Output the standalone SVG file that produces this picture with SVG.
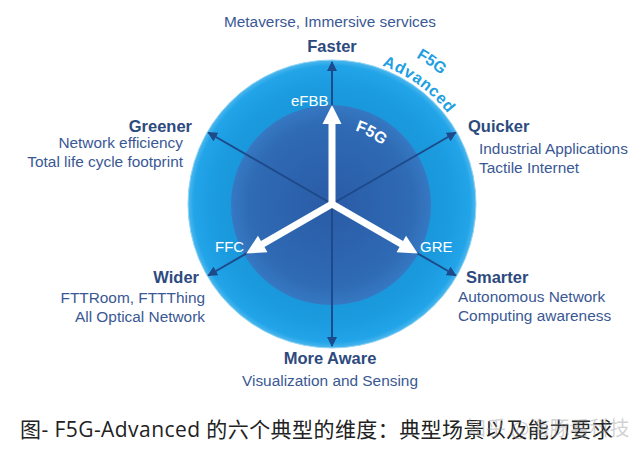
<svg xmlns="http://www.w3.org/2000/svg" width="641" height="451" viewBox="0 0 641 451">
<style>
.t{font-family:"Liberation Sans",Arial,sans-serif;font-weight:bold;font-size:16.5px;fill:#2d4a7e}
.s{font-family:"Liberation Sans",Arial,sans-serif;font-size:15.4px;fill:#3a5894}
.w{font-family:"Liberation Sans",Arial,sans-serif;font-size:15px;fill:#ffffff}
.ring{font-family:"Liberation Sans",Arial,sans-serif;font-weight:bold;font-size:16px;fill:#1f9fe2}
.dark{stroke:#1d4a8a;stroke-width:2;fill:none;marker-end:url(#ah)}
</style>
<defs>
<radialGradient id="gOut" cx="0.5" cy="0.5" r="0.5">
<stop offset="0" stop-color="#168ad2"/>
<stop offset="0.8" stop-color="#1b9ade"/>
<stop offset="0.96" stop-color="#22a4e8"/>
<stop offset="1" stop-color="#4cb8ee"/>
</radialGradient>
<radialGradient id="gIn" cx="0.5" cy="0.5" r="0.5">
<stop offset="0" stop-color="#2a5ba6"/>
<stop offset="0.8" stop-color="#2f6ab4"/>
<stop offset="1" stop-color="#3678c2"/>
</radialGradient>
<marker id="ah" viewBox="0 0 10 10" refX="9" refY="5" markerWidth="5" markerHeight="5" orient="auto" markerUnits="strokeWidth">
<path d="M0,0 L10,5 L0,10 z" fill="#1d4a8a"/>
</marker>
<path id="wa" d="M-3.5,0 L-3.5,-80 L-9.5,-80 L0,-99 L9.5,-80 L3.5,-80 L3.5,0 z" fill="#ffffff"/>
<path id="arcA" d="M306.5,59.2 A147,147 0 0 1 479,204"/>
<path id="arcF" d="M302.8,37.5 A169,169 0 0 1 501,204"/>
<path id="arcI" d="M318.6,128.2 A77,77 0 0 1 409,204"/>
</defs>

<g id="circles">
<circle cx="332" cy="204" r="144" fill="url(#gOut)" stroke="#8fd2f4" stroke-width="1"/>
<circle cx="331" cy="205" r="100" fill="url(#gIn)"/>
</g>

<g id="connectors">
<line class="dark" x1="332" y1="204" x2="332" y2="62"/>
<line class="dark" x1="332" y1="204" x2="332" y2="346"/>
<line class="dark" x1="332" y1="204" x2="208.2" y2="132.5"/>
<line class="dark" x1="332" y1="204" x2="455.8" y2="132.5"/>
<line class="dark" x1="332" y1="204" x2="208.2" y2="275.5"/>
<line class="dark" x1="332" y1="204" x2="455.8" y2="275.5"/>
<use href="#wa" transform="translate(332,204)"/>
<use href="#wa" transform="translate(332,204) rotate(-120)"/>
<use href="#wa" transform="translate(332,204) rotate(120)"/>
</g>

<g id="inner-labels">
<text class="w" x="291" y="106">eFBB</text>
<text class="w" x="215" y="252">FFC</text>
<text class="w" x="420" y="252">GRE</text>
<text class="w" style="font-weight:bold;font-size:16px"><textPath href="#arcI" startOffset="39%" text-anchor="middle">F5G</textPath></text>
</g>

<g id="ring-label">
<text class="ring"><textPath href="#arcF" startOffset="45%" text-anchor="middle">F5G</textPath></text>
<text class="ring" letter-spacing="0.8"><textPath href="#arcA" startOffset="46%" text-anchor="middle">Advanced</textPath></text>
</g>

<g id="faster">
<text class="s" x="330" y="27" text-anchor="middle">Metaverse, Immersive services</text>
<text class="t" x="332" y="52" text-anchor="middle">Faster</text>
</g>

<g id="greener">
<text class="t" x="192" y="132" text-anchor="end">Greener</text>
<text class="s" x="183" y="148" text-anchor="end">Network efficiency</text>
<text class="s" x="183" y="167" text-anchor="end">Total life cycle footprint</text>
</g>

<g id="quicker">
<text class="t" x="468" y="132">Quicker</text>
<text class="s" x="479" y="154">Industrial Applications</text>
<text class="s" x="479" y="173">Tactile Internet</text>
</g>

<g id="wider">
<text class="t" x="199" y="283" text-anchor="end">Wider</text>
<text class="s" x="205" y="303" text-anchor="end">FTTRoom, FTTThing</text>
<text class="s" x="205" y="322" text-anchor="end">All Optical Network</text>
</g>

<g id="smarter">
<text class="t" x="466" y="283">Smarter</text>
<text class="s" x="458" y="302">Autonomous Network</text>
<text class="s" x="458" y="321">Computing awareness</text>
</g>

<g id="more-aware">
<text class="t" x="330" y="364" text-anchor="middle">More Aware</text>
<text class="s" x="330" y="386" text-anchor="middle">Visualization and Sensing</text>
</g>

<g id="caption">
<text x="20" y="437" font-family="'Open Sans','Noto Sans CJK SC',sans-serif" font-size="21" fill="#222" textLength="593" lengthAdjust="spacing">图- F5G-Advanced 的六个典型的维度：典型场景以及能力要求</text>
<text x="466" y="436" font-family="'Noto Sans CJK SC',sans-serif" font-size="20" fill="#999" fill-opacity="0.45">知乎 @海豚看科技</text>
</g>
</svg>
